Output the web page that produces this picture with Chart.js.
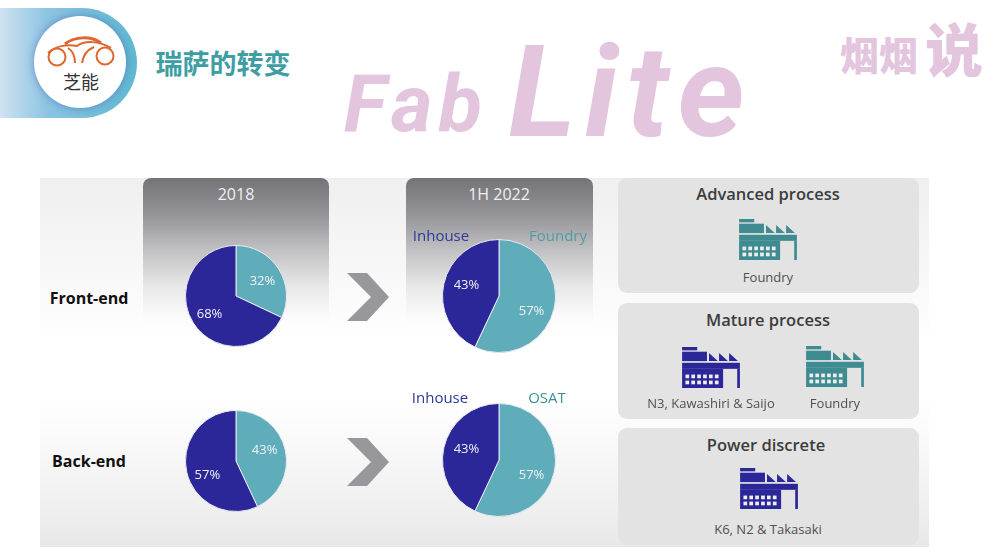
<!DOCTYPE html>
<html>
<head>
<meta charset="utf-8">
<script src="https://cdn.jsdelivr.net/npm/chart.js@4"></script>
<style>
  html, body { margin: 0; padding: 0; background: #fff; }
  #page { position: relative; width: 1000px; height: 559px; overflow: hidden; font-family: "Open Sans", "Noto Sans", sans-serif; }
  #page > * { position: absolute; }
  .txt { white-space: nowrap; transform: translate(-50%, -50%); line-height: 1; }
  .band { background: linear-gradient(180deg, #747378 0%, #96959a 25%, rgba(185,185,187,.85) 48%, rgba(228,228,228,.75) 72%, rgba(250,250,250,.3) 92%, rgba(255,255,255,0) 100%); border-radius: 8px 8px 0 0; }
  .card { left: 618px; width: 301px; background: #e3e3e3; border-radius: 9px; }
  .head { color: #3c3c3c; font-size: 16.5px; font-weight: 600; }
  .sub { color: #505050; font-size: 13px; }
  .yr { color: #f0f0f0; font-size: 16px; }
  .row { color: #111; font-size: 16px; font-weight: 700; }
  .wm { color: #e3c5dd; font-weight: 700; }
</style>
</head>
<body>
<div id="page">
  <!-- shapka -->
  <div style="left:0;top:8px;width:137px;height:110px;border-radius:0 55px 55px 0;background:linear-gradient(90deg,#cfe2f2 0%,#8cc4e2 35%,#5fb9d2 100%)"></div>
  <div style="left:34px;top:16px;width:92px;height:92px;border-radius:50%;background:#fff;box-shadow:0 0 8px rgba(60,90,170,.55)"></div>
  <svg style="left:47px;top:36px" width="68" height="32" viewBox="0 0 68 32" fill="none" stroke="#e0662f" stroke-width="2">
    <ellipse cx="10" cy="21" rx="8.5" ry="8.5"/>
    <ellipse cx="58" cy="20" rx="8.5" ry="8.5"/>
    <path d="M1 17C8 10 20 8 30 10C38 4 52 5 64 12"/>
    <path d="M21 12C26 15 28 20 28 27M47 11C40 14 36 20 35 27"/>
    <path d="M18 8C28 0 44 0 54 7" stroke-width="3"/>
  </svg>
  <div class="txt" style="left:81px;top:81px;font-family:'Noto Sans CJK SC';font-size:18px;color:#333">芝能</div>
  <div class="txt" style="left:223px;top:62px;font-family:'Noto Sans CJK SC';font-weight:700;font-size:27px;color:#3f9ea3">瑞萨的转变</div>

  <div class="txt wm" style="left:416px;top:104px;font-family:Roboto;font-style:italic;font-size:80px;letter-spacing:6px">Fab</div>
  <div class="txt wm" style="left:631px;top:92px;font-family:Roboto;font-style:italic;font-size:128px;letter-spacing:9px">Lite</div>
  <div class="txt wm" style="left:879px;top:53px;font-family:'Noto Sans CJK SC';font-weight:900;font-size:39px">烟烟</div>
  <div class="txt wm" style="left:954px;top:47px;font-family:'Noto Sans CJK SC';font-weight:900;font-size:58px">说</div>

  <!-- fon slaida -->
  <div style="left:40px;top:178px;width:889px;height:369px;background:linear-gradient(180deg,#efefef 0%,#fbfbfb 35%,#fff 45%,#fff 58%,#f9f9f9 72%,#f0f0f0 88%,#e8e8e8 100%)"></div>
  <div class="band" style="left:143px;top:178px;width:186px;height:152px"></div>
  <div class="band" style="left:406px;top:178px;width:187px;height:152px"></div>
  <div class="txt yr" style="left:236px;top:194px">2018</div>
  <div class="txt yr" style="left:499px;top:194px">1H 2022</div>
  <div class="txt row" style="left:89px;top:298px">Front-end</div>
  <div class="txt row" style="left:89px;top:461px">Back-end</div>

  <svg style="left:347px;top:273px" width="42" height="48" viewBox="0 0 42 48"><polygon points="0,0 20,0 42,24 20,48 0,48 24,24" fill="#98979c"/></svg>
  <svg style="left:347px;top:438px" width="42" height="48" viewBox="0 0 42 48"><polygon points="0,0 20,0 42,24 20,48 0,48 24,24" fill="#98979c"/></svg>

  <canvas id="pie1" style="left:185px;top:245px"></canvas>
  <canvas id="pie2" style="left:442px;top:239px"></canvas>
  <canvas id="pie3" style="left:185px;top:410px"></canvas>
  <canvas id="pie4" style="left:442px;top:403px"></canvas>

  <div class="txt" style="left:441px;top:235px;color:#2b3a96;font-size:15px">Inhouse</div>
  <div class="txt" style="left:558px;top:235px;color:#4f9ea6;font-size:15px">Foundry</div>
  <div class="txt" style="left:440px;top:397px;color:#2b3a96;font-size:15px">Inhouse</div>
  <div class="txt" style="left:547px;top:397px;color:#3f8f98;font-size:15px">OSAT</div>

  <!-- kartochki sprava -->
  <div class="card" style="top:178px;height:115px"></div>
  <div class="card" style="top:303px;height:116px"></div>
  <div class="card" style="top:428px;height:117px"></div>
  <div class="txt head" style="left:768px;top:194px">Advanced process</div>
  <div class="txt head" style="left:768px;top:320px">Mature process</div>
  <div class="txt head" style="left:766px;top:445px">Power discrete</div>
  <div class="txt sub" style="left:768px;top:277px">Foundry</div>
  <div class="txt sub" style="left:711px;top:403px">N3, Kawashiri &amp; Saijo</div>
  <div class="txt sub" style="left:835px;top:403px">Foundry</div>
  <div class="txt sub" style="left:768px;top:529px">K6, N2 &amp; Takasaki</div>
  <svg class="fab" data-c="#3f8b92" style="left:739px;top:219px" width="58" height="41" viewBox="0 0 172 122"></svg>
  <svg class="fab" data-c="#2b2799" style="left:682px;top:347px" width="58" height="41" viewBox="0 0 172 122"></svg>
  <svg class="fab" data-c="#3f8b92" style="left:806px;top:346px" width="58" height="41" viewBox="0 0 172 122"></svg>
  <svg class="fab" data-c="#2b2799" style="left:740px;top:468px" width="58" height="41" viewBox="0 0 172 122"></svg>
</div>

<script>
const teal = "#5fadba";
const navy = "#2b2799";

// dannye krugov, po chasovoj ot verha
const frontEnd2018 = [32, 68];
const frontEnd2022 = [57, 43];
const backEnd2018 = [43, 57];
const backEnd2022 = [57, 43];
const sliceLabels2022 = ["Foundry", "Inhouse"];
const sliceLabelsBack = ["OSAT", "Inhouse"];

// podpisi procentov pryamo na kuskah
const percentLabels = {
  id: "percentLabels",
  afterDatasetsDraw(chart, args, opts) {
    const ctx = chart.ctx;
    const arcs = chart.getDatasetMeta(0).data;
    ctx.save();
    ctx.font = "13px 'Open Sans'";
    ctx.fillStyle = "#f2f2f2";
    ctx.textAlign = "center";
    ctx.textBaseline = "middle";
    arcs.forEach((arc, i) => {
      const a = (arc.startAngle + arc.endAngle) / 2 + (opts.turn || 0);
      const r = arc.outerRadius * 0.62;
      ctx.fillText(chart.data.datasets[0].data[i] + "%", arc.x + Math.cos(a) * r, arc.y + Math.sin(a) * r + 2);
    });
    ctx.restore();
  },
};

function buildPie(id, labels, values, size, turn) {
  const canvas = document.getElementById(id);
  canvas.width = size;
  canvas.height = size;
  new Chart(canvas, {
    type: "pie",
    data: {
      labels,
      datasets: [{ data: values, backgroundColor: [teal, navy], borderColor: "#e8e8ee", borderWidth: 1 }],
    },
    options: {
      responsive: false,
      animation: false,
      layout: { padding: 0 },
      plugins: { legend: { display: false }, tooltip: { enabled: false }, percentLabels: { turn } },
    },
    plugins: [percentLabels],
  });
}

buildPie("pie1", ["Foundry", "Inhouse"], frontEnd2018, 102, 0);
buildPie("pie2", sliceLabels2022, frontEnd2022, 114, 0.16);
buildPie("pie3", ["OSAT", "Inhouse"], backEnd2018, 102, -0.2);
buildPie("pie4", sliceLabelsBack, backEnd2022, 114, 0.16);

// zavodiki
document.querySelectorAll(".fab").forEach((s) => {
  const c = s.dataset.c;
  let h = `<g fill="${c}"><rect x="0" y="0" width="45" height="10"/><rect x="0" y="14" width="74" height="28"/>`;
  [80, 110, 140].forEach((x) => { h += `<polygon points="${x},18 ${x + 26},42 ${x},42"/>`; });
  h += `<rect x="0" y="47" width="172" height="18"/><rect x="0" y="65" width="122" height="57"/><rect x="164" y="65" width="8" height="57"/></g><g fill="#eee">`;
  [82, 100].forEach((y) => {
    for (let i = 0; i < 6; i++) h += `<rect x="${10 + i * 17.5}" y="${y}" width="11" height="11"/>`;
  });
  s.innerHTML = h + "</g>";
});
</script>
</body>
</html>
